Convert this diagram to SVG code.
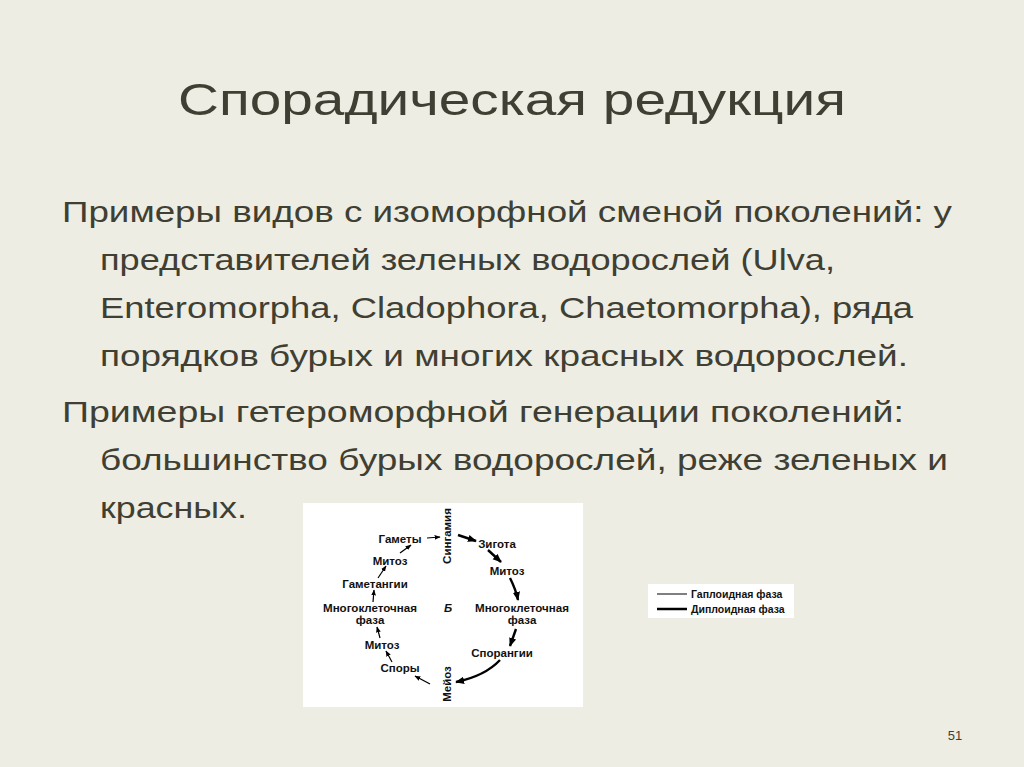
<svg xmlns="http://www.w3.org/2000/svg" width="1024" height="767" viewBox="0 0 1024 767">
<defs>
<marker id="a" viewBox="0 0 10 10" refX="9" refY="5" markerWidth="6" markerHeight="6" orient="auto" markerUnits="userSpaceOnUse"><path d="M0,1 L10,5 L0,9 Z" fill="#000"/></marker>
<marker id="b" viewBox="0 0 10 10" refX="9" refY="5" markerWidth="9" markerHeight="9" orient="auto" markerUnits="userSpaceOnUse"><path d="M0,1 L10,5 L0,9 Z" fill="#000"/></marker>
</defs>
<style>
.t{font-family:"Liberation Sans",Arial,sans-serif;fill:#3f3f33}
.b{font-size:30px}
.d{font-family:"Liberation Sans",Arial,sans-serif;font-size:11.5px;font-weight:bold;fill:#111;text-anchor:middle}
.l{font-family:"Liberation Sans",Arial,sans-serif;font-size:10.5px;font-weight:bold;fill:#111}
.thin{stroke:#000;stroke-width:1.2;fill:none;marker-end:url(#a)}
.thick{stroke:#000;stroke-width:2.4;fill:none;marker-end:url(#b)}
</style>
<rect width="1024" height="767" fill="#eeede4"/>
<text class="t" x="512" y="115" font-size="45" text-anchor="middle" textLength="668" lengthAdjust="spacingAndGlyphs">Спорадическая редукция</text>
<g id="body" class="t b">
<text x="62" y="222" textLength="890" lengthAdjust="spacingAndGlyphs">Примеры видов с изоморфной сменой поколений: у</text>
<text x="100" y="270" textLength="735" lengthAdjust="spacingAndGlyphs">представителей зеленых водорослей (Ulva,</text>
<text x="100" y="318" textLength="813" lengthAdjust="spacingAndGlyphs">Enteromorpha, Cladophora, Chaetomorpha), ряда</text>
<text x="100" y="366" textLength="808" lengthAdjust="spacingAndGlyphs">порядков бурых и многих красных водорослей.</text>
<text x="62" y="422" textLength="842" lengthAdjust="spacingAndGlyphs">Примеры гетероморфной генерации поколений:</text>
<text x="100" y="470" textLength="848" lengthAdjust="spacingAndGlyphs">большинство бурых водорослей, реже зеленых и</text>
<text x="100" y="518" textLength="147" lengthAdjust="spacingAndGlyphs">красных.</text>
</g>
<g id="diagram">
<rect x="303" y="503" width="280" height="204" fill="#fff"/>
<g id="labels">
<text class="d" x="400" y="543">Гаметы</text>
<text class="d" transform="translate(451,536) rotate(-90)">Сингамия</text>
<text class="d" x="497" y="548">Зигота</text>
<text class="d" x="507" y="575">Митоз</text>
<text class="d" x="522" y="612" textLength="94" lengthAdjust="spacingAndGlyphs">Многоклеточная</text>
<text class="d" x="522" y="624">фаза</text>
<text class="d" x="502" y="657">Спорангии</text>
<text class="d" transform="translate(451,684) rotate(-90)">Мейоз</text>
<text class="d" x="400" y="672">Споры</text>
<text class="d" x="382" y="649">Митоз</text>
<text class="d" x="370" y="612" textLength="94" lengthAdjust="spacingAndGlyphs">Многоклеточная</text>
<text class="d" x="370" y="624">фаза</text>
<text class="d" x="375" y="588">Гаметангии</text>
<text class="d" x="390" y="565">Митоз</text>
<text class="d" x="448" y="612" font-style="italic">Б</text>
</g>
<g id="connectors">
<path class="thin" d="M427,538 L440,537"/>
<path class="thin" d="M400,553 L411,545"/>
<path class="thin" d="M378,578 L386,566"/>
<path class="thin" d="M373,602 L374,590"/>
<path class="thin" d="M380,638 L377,627"/>
<path class="thin" d="M392,662 L386,651"/>
<path class="thin" d="M430,684 L415,676"/>
<path class="thick" d="M458,535 L476,541"/>
<path class="thick" d="M488,550 L501,562"/>
<path class="thick" d="M510,578 Q516,590 518,600"/>
<path class="thick" d="M516,629 L510,646"/>
<path class="thick" d="M500,660 Q485,676 456,682"/>
</g>
</g>
<g id="legend">
<rect x="648" y="584" width="146" height="34" fill="#fff"/>
<line x1="657" y1="594" x2="687" y2="594" stroke="#000" stroke-width="1"/>
<line x1="657" y1="609" x2="687" y2="609" stroke="#000" stroke-width="2.5"/>
<text class="l" x="691" y="597.5">Гаплоидная фаза</text>
<text class="l" x="691" y="612.5">Диплоидная фаза</text>
</g>
<text class="t" x="955" y="740" font-size="13" text-anchor="middle" fill="#999">51</text>
</svg>
